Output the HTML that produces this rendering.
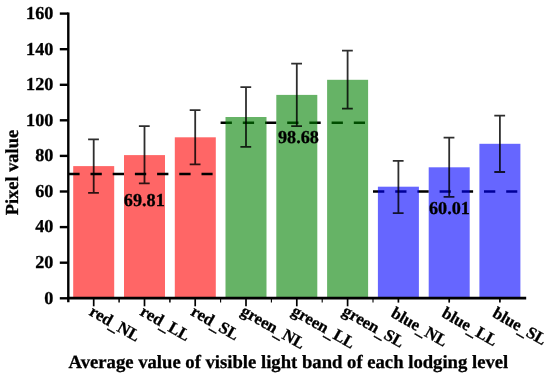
<!DOCTYPE html>
<html><head><meta charset="utf-8"><title>chart</title>
<style>html,body{margin:0;padding:0;background:#fff}svg{display:block}text{font-family:"Liberation Serif",serif;font-weight:bold;fill:#000;stroke:#000;stroke-width:0.3px;text-rendering:geometricPrecision}</style></head>
<body>
<svg width="550" height="377" viewBox="0 0 550 377">
<rect width="550" height="377" fill="#fff"/>
<line x1="220.6" y1="122.7" x2="365.0" y2="122.7" stroke="#000" stroke-width="2.5" stroke-dasharray="11.3 10.9"/>
<line x1="373.0" y1="191.5" x2="517.3" y2="191.5" stroke="#000" stroke-width="2.5" stroke-dasharray="11.3 10.9"/>
<rect x="73.2" y="166.1" width="41.0" height="132.2" fill="rgba(255,0,0,0.6)"/>
<rect x="124.0" y="155.1" width="41.0" height="143.2" fill="rgba(255,0,0,0.6)"/>
<rect x="174.8" y="137.3" width="41.0" height="161.0" fill="rgba(255,0,0,0.6)"/>
<rect x="225.5" y="117.0" width="41.0" height="181.3" fill="rgba(0,128,0,0.6)"/>
<rect x="276.3" y="94.9" width="41.0" height="203.4" fill="rgba(0,128,0,0.6)"/>
<rect x="327.1" y="79.8" width="41.0" height="218.5" fill="rgba(0,128,0,0.6)"/>
<rect x="377.9" y="186.7" width="41.0" height="111.6" fill="rgba(0,0,255,0.6)"/>
<rect x="428.7" y="167.3" width="41.0" height="131.0" fill="rgba(0,0,255,0.6)"/>
<rect x="479.4" y="143.8" width="41.0" height="154.5" fill="rgba(0,0,255,0.6)"/>
<line x1="68.3" y1="174.1" x2="212.6" y2="174.1" stroke="#000" stroke-width="2.5" stroke-dasharray="11.3 10.9"/>
<path d="M93.7 139.4V192.8M88.1 139.4h10.8M88.1 192.8h10.8" stroke="#000" stroke-opacity="0.82" stroke-width="1.8" fill="none"/>
<path d="M144.5 126.1V183.4M138.9 126.1h10.8M138.9 183.4h10.8" stroke="#000" stroke-opacity="0.82" stroke-width="1.8" fill="none"/>
<path d="M195.2 110.2V164.3M189.7 110.2h10.8M189.7 164.3h10.8" stroke="#000" stroke-opacity="0.82" stroke-width="1.8" fill="none"/>
<path d="M246.0 87.1V146.9M240.4 87.1h10.8M240.4 146.9h10.8" stroke="#000" stroke-opacity="0.82" stroke-width="1.8" fill="none"/>
<path d="M296.8 63.6V126.2M291.2 63.6h10.8M291.2 126.2h10.8" stroke="#000" stroke-opacity="0.82" stroke-width="1.8" fill="none"/>
<path d="M347.6 50.6V108.6M342.0 50.6h10.8M342.0 108.6h10.8" stroke="#000" stroke-opacity="0.82" stroke-width="1.8" fill="none"/>
<path d="M398.4 160.8V213.1M392.8 160.8h10.8M392.8 213.1h10.8" stroke="#000" stroke-opacity="0.82" stroke-width="1.8" fill="none"/>
<path d="M449.2 137.6V196.9M443.6 137.6h10.8M443.6 196.9h10.8" stroke="#000" stroke-opacity="0.82" stroke-width="1.8" fill="none"/>
<path d="M499.9 115.7V172.0M494.3 115.7h10.8M494.3 172.0h10.8" stroke="#000" stroke-opacity="0.82" stroke-width="1.8" fill="none"/>
<path d="M68.3 12.4V302.2" stroke="#000" stroke-width="2.4" fill="none"/>
<path d="M67.3 298.15H526.2" stroke="#000" stroke-width="2.8" fill="none"/>
<line x1="59.8" y1="298.3" x2="68.3" y2="298.3" stroke="#000" stroke-width="2.4"/>
<text x="53.4" y="303.6" font-size="18.2" text-anchor="end">0</text>
<line x1="59.8" y1="262.7" x2="68.3" y2="262.7" stroke="#000" stroke-width="2.4"/>
<text x="53.4" y="268.0" font-size="18.2" text-anchor="end">20</text>
<line x1="59.8" y1="227.1" x2="68.3" y2="227.1" stroke="#000" stroke-width="2.4"/>
<text x="53.4" y="232.4" font-size="18.2" text-anchor="end">40</text>
<line x1="59.8" y1="191.5" x2="68.3" y2="191.5" stroke="#000" stroke-width="2.4"/>
<text x="53.4" y="196.8" font-size="18.2" text-anchor="end">60</text>
<line x1="59.8" y1="155.9" x2="68.3" y2="155.9" stroke="#000" stroke-width="2.4"/>
<text x="53.4" y="161.2" font-size="18.2" text-anchor="end">80</text>
<line x1="59.8" y1="120.3" x2="68.3" y2="120.3" stroke="#000" stroke-width="2.4"/>
<text x="53.4" y="125.6" font-size="18.2" text-anchor="end">100</text>
<line x1="59.8" y1="84.8" x2="68.3" y2="84.8" stroke="#000" stroke-width="2.4"/>
<text x="53.4" y="90.1" font-size="18.2" text-anchor="end">120</text>
<line x1="59.8" y1="49.2" x2="68.3" y2="49.2" stroke="#000" stroke-width="2.4"/>
<text x="53.4" y="54.5" font-size="18.2" text-anchor="end">140</text>
<line x1="59.8" y1="13.6" x2="68.3" y2="13.6" stroke="#000" stroke-width="2.4"/>
<text x="53.4" y="18.9" font-size="18.2" text-anchor="end">160</text>
<line x1="93.7" y1="298.3" x2="93.7" y2="306.3" stroke="#000" stroke-width="1.7"/>
<line x1="144.5" y1="298.3" x2="144.5" y2="306.3" stroke="#000" stroke-width="1.7"/>
<line x1="195.2" y1="298.3" x2="195.2" y2="306.3" stroke="#000" stroke-width="1.7"/>
<line x1="246.0" y1="298.3" x2="246.0" y2="306.3" stroke="#000" stroke-width="1.7"/>
<line x1="296.8" y1="298.3" x2="296.8" y2="306.3" stroke="#000" stroke-width="1.7"/>
<line x1="347.6" y1="298.3" x2="347.6" y2="306.3" stroke="#000" stroke-width="1.7"/>
<line x1="398.4" y1="298.3" x2="398.4" y2="302.6" stroke="#000" stroke-width="1.7"/>
<line x1="449.2" y1="298.3" x2="449.2" y2="302.6" stroke="#000" stroke-width="1.7"/>
<line x1="499.9" y1="298.3" x2="499.9" y2="302.6" stroke="#000" stroke-width="1.7"/>
<line x1="119.1" y1="298.3" x2="119.1" y2="302.4" stroke="#000" stroke-width="1.5"/>
<line x1="169.9" y1="298.3" x2="169.9" y2="302.4" stroke="#000" stroke-width="1.5"/>
<line x1="220.6" y1="298.3" x2="220.6" y2="302.4" stroke="#000" stroke-width="1.1"/>
<line x1="271.4" y1="298.3" x2="271.4" y2="302.4" stroke="#000" stroke-width="1.1"/>
<line x1="322.2" y1="298.3" x2="322.2" y2="302.4" stroke="#000" stroke-width="1.1"/>
<line x1="373.0" y1="298.3" x2="373.0" y2="302.4" stroke="#000" stroke-width="1.1"/>
<text transform="translate(88.3 314.5) rotate(30)" font-size="16.67">red<tspan dy="1.2">_</tspan><tspan dy="-1.2">NL</tspan></text>
<text transform="translate(139.1 314.5) rotate(30)" font-size="16.67">red<tspan dy="1.2">_</tspan><tspan dy="-1.2">LL</tspan></text>
<text transform="translate(189.8 314.5) rotate(30)" font-size="16.67">red<tspan dy="1.2">_</tspan><tspan dy="-1.2">SL</tspan></text>
<text transform="translate(239.7 314.0) rotate(30)" font-size="16.67">green<tspan dy="1.2">_</tspan><tspan dy="-1.2">NL</tspan></text>
<text transform="translate(290.5 314.0) rotate(30)" font-size="16.67">green<tspan dy="1.2">_</tspan><tspan dy="-1.2">LL</tspan></text>
<text transform="translate(341.3 314.0) rotate(30)" font-size="16.67">green<tspan dy="1.2">_</tspan><tspan dy="-1.2">SL</tspan></text>
<text transform="translate(389.9 316.0) rotate(30)" font-size="16.67">blue<tspan dy="1.2">_</tspan><tspan dy="-1.2">NL</tspan></text>
<text transform="translate(440.7 316.0) rotate(30)" font-size="16.67">blue<tspan dy="1.2">_</tspan><tspan dy="-1.2">LL</tspan></text>
<text transform="translate(491.4 316.0) rotate(30)" font-size="16.67">blue<tspan dy="1.2">_</tspan><tspan dy="-1.2">SL</tspan></text>
<text x="144.3" y="205.7" font-size="18.2" text-anchor="middle">69.81</text>
<text x="298.45" y="143.1" font-size="18.2" text-anchor="middle">98.68</text>
<text x="449.45" y="214.3" font-size="18.2" text-anchor="middle">60.01</text>
<text x="68.6" y="368.2" font-size="18.67" >Average value of visible light band of each lodging level</text>
<text transform="translate(17.5 172.6) rotate(-90)" font-size="18.4" text-anchor="middle">Pixel value</text>
</svg>
</body></html>
